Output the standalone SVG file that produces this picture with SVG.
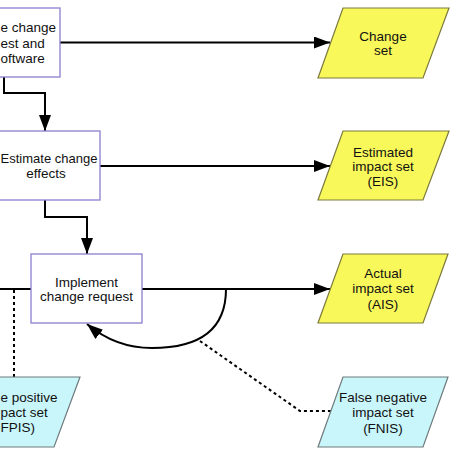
<svg xmlns="http://www.w3.org/2000/svg" width="474" height="474" viewBox="0 0 474 474">
<defs>
<marker id="ah" viewBox="0 0 10 10" refX="10" refY="5" markerWidth="16" markerHeight="12" markerUnits="userSpaceOnUse" orient="auto" preserveAspectRatio="none">
<path d="M0,0 L10,5 L0,10 z" fill="#000"/>
</marker>
<style>
.box{fill:#fff;stroke:#8a7fcf;stroke-width:1.3}
.yel{fill:#f8f85a;stroke:#7c7a3c;stroke-width:1.2}
.cyan{fill:#c9f6fb;stroke:#6f7a7c;stroke-width:1.2}
.t{font-family:"Liberation Sans",Arial,sans-serif;font-size:13.5px;fill:#111;text-anchor:middle}
.ts{font-family:"Liberation Sans",Arial,sans-serif;font-size:13.5px;fill:#111;text-anchor:start}
.c{fill:none;stroke:#000;stroke-width:2}
.d{fill:none;stroke:#000;stroke-width:2;stroke-dasharray:3 3}
</style>
</defs>
<rect width="474" height="474" fill="#fff"/>
<g id="connectors">
<path class="c" d="M60,42.5 H330" marker-end="url(#ah)"/>
<path class="c" d="M4,77 V93 H45 V131" marker-end="url(#ah)"/>
<path class="c" d="M100,166 H330" marker-end="url(#ah)"/>
<path class="c" d="M45,200 V217 H87 V254" marker-end="url(#ah)"/>
<path class="c" d="M0,289 H31"/>
<path class="c" d="M142,289 H330" marker-end="url(#ah)"/>
<path class="c" d="M226,289 C226,330 200,348 152,348 C128,348 106,340 87,324" marker-end="url(#ah)"/>
<path class="d" d="M14,290 V377"/>
<path class="d" d="M200,341 L300,411 H331"/>
</g>
<g id="n-analyze">
<rect class="box" x="-10" y="8" width="70" height="69"/>
<text class="ts" x="0.5" y="32">e change</text>
<text class="ts" x="0.5" y="47.5">est and</text>
<text class="ts" x="0.5" y="63">oftware</text>
</g>
<g id="n-estimate">
<rect class="box" x="-10" y="131" width="110" height="69"/>
<text class="t" x="49" y="163" style="font-size:13px">Estimate change</text>
<text class="t" x="46" y="178">effects</text>
</g>
<g id="n-implement">
<rect class="box" x="31" y="254" width="111" height="69"/>
<text class="t" x="86.5" y="287">Implement</text>
<text class="t" x="86.5" y="301">change request</text>
</g>
<g id="n-changeset">
<polygon class="yel" points="343,8 449,8 423,78 318,78"/>
<text class="t" x="383" y="41">Change</text>
<text class="t" x="383" y="55">set</text>
</g>
<g id="n-eis">
<polygon class="yel" points="343,131 449,131 423,200 318,200"/>
<text class="t" x="383" y="157">Estimated</text>
<text class="t" x="383" y="171">impact set</text>
<text class="t" x="383" y="185.5">(EIS)</text>
</g>
<g id="n-ais">
<polygon class="yel" points="343,254 448,254 423,323 318,323"/>
<text class="t" x="383" y="278">Actual</text>
<text class="t" x="383" y="293">impact set</text>
<text class="t" x="383" y="308.5">(AIS)</text>
</g>
<g id="n-fnis">
<polygon class="cyan" points="343,377 448,377 423,447 318,447"/>
<text class="t" x="383" y="402">False negative</text>
<text class="t" x="383" y="417">impact set</text>
<text class="t" x="383" y="433">(FNIS)</text>
</g>
<g id="n-fpis">
<polygon class="cyan" points="-25,377 80,377 54,447 -51,447"/>
<text class="ts" x="0.5" y="402">e positive</text>
<text class="ts" x="0.5" y="417">pact set</text>
<text class="ts" x="0.5" y="432">FPIS)</text>
</g>
</svg>
